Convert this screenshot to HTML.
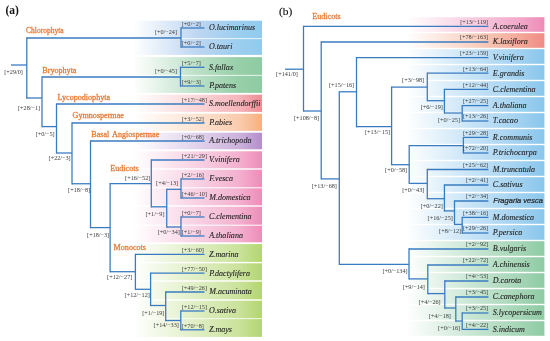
<!DOCTYPE html>
<html><head><meta charset="utf-8"><title>Phylogenetic tree</title>
<style>
html,body{margin:0;padding:0;background:#fff;}
svg{display:block;}
text{font-family:"Liberation Serif","Times New Roman",serif;}
.sp{font-size:8.05px;font-style:italic;fill:#222;stroke:#222;stroke-width:0.1px;}
.nl{font-size:6.2px;fill:#3a3a3a;}
.gp{font-size:8.1px;fill:#E67C38;stroke:#E67C38;stroke-width:0.3px;word-spacing:1.2px;}
.pa{font-size:11.5px;font-weight:bold;fill:#111;}
.pb{font-size:11.4px;fill:#111;stroke:#111;stroke-width:0.15px;}
.ss{font-family:"Liberation Sans",Arial,sans-serif;font-size:7.4px;font-style:italic;fill:#222;stroke:#222;stroke-width:0.2px;}
</style></head><body>
<svg width="550" height="341" viewBox="0 0 550 341">
<defs>
<filter id="soft" x="0" y="0" width="550" height="341" filterUnits="userSpaceOnUse"><feGaussianBlur stdDeviation="0.35"/></filter>
<linearGradient id="a_blue" gradientUnits="userSpaceOnUse" x1="133" y1="0" x2="262" y2="0"><stop offset="0" stop-color="#ffffff"/><stop offset="0.5" stop-color="#BED6F2"/><stop offset="0.82" stop-color="#9bceef"/><stop offset="1" stop-color="#92CAEE"/></linearGradient>
<linearGradient id="a_green" gradientUnits="userSpaceOnUse" x1="133" y1="0" x2="262" y2="0"><stop offset="0" stop-color="#ffffff"/><stop offset="0.5" stop-color="#bbe0c7"/><stop offset="0.82" stop-color="#97cfa9"/><stop offset="1" stop-color="#8ECBA2"/></linearGradient>
<linearGradient id="a_red" gradientUnits="userSpaceOnUse" x1="133" y1="0" x2="262" y2="0"><stop offset="0" stop-color="#ffffff"/><stop offset="0.5" stop-color="#fad6d8"/><stop offset="0.82" stop-color="#f5b5bb"/><stop offset="1" stop-color="#F08C94"/></linearGradient>
<linearGradient id="a_orange" gradientUnits="userSpaceOnUse" x1="133" y1="0" x2="262" y2="0"><stop offset="0" stop-color="#ffffff"/><stop offset="0.5" stop-color="#fce3d1"/><stop offset="0.82" stop-color="#f9ccae"/><stop offset="1" stop-color="#F6B080"/></linearGradient>
<linearGradient id="a_purple" gradientUnits="userSpaceOnUse" x1="133" y1="0" x2="262" y2="0"><stop offset="0" stop-color="#ffffff"/><stop offset="0.5" stop-color="#e1d2eb"/><stop offset="0.82" stop-color="#ccb2dc"/><stop offset="1" stop-color="#B48ECC"/></linearGradient>
<linearGradient id="a_pink" gradientUnits="userSpaceOnUse" x1="133" y1="0" x2="262" y2="0"><stop offset="0" stop-color="#ffffff"/><stop offset="0.5" stop-color="#f8d1e3"/><stop offset="0.82" stop-color="#f3b1cf"/><stop offset="1" stop-color="#EE8CB8"/></linearGradient>
<linearGradient id="a_lime" gradientUnits="userSpaceOnUse" x1="133" y1="0" x2="262" y2="0"><stop offset="0" stop-color="#ffffff"/><stop offset="0.5" stop-color="#dfeec3"/><stop offset="0.82" stop-color="#cae29b"/><stop offset="1" stop-color="#B3D670"/></linearGradient>
<linearGradient id="b_pink2" gradientUnits="userSpaceOnUse" x1="406" y1="0" x2="544.4" y2="0"><stop offset="0" stop-color="#ffffff"/><stop offset="0.5" stop-color="#f7cbdf"/><stop offset="0.82" stop-color="#f2a9ca"/><stop offset="1" stop-color="#EE8CB8"/></linearGradient>
<linearGradient id="b_red2" gradientUnits="userSpaceOnUse" x1="406" y1="0" x2="544.4" y2="0"><stop offset="0" stop-color="#ffffff"/><stop offset="0.5" stop-color="#F9D0C0"/><stop offset="0.82" stop-color="#F4A898"/><stop offset="1" stop-color="#F08C86"/></linearGradient>
<linearGradient id="b_blue2" gradientUnits="userSpaceOnUse" x1="406" y1="0" x2="544.4" y2="0"><stop offset="0" stop-color="#ffffff"/><stop offset="0.5" stop-color="#c4e2f6"/><stop offset="0.82" stop-color="#a1d1f0"/><stop offset="1" stop-color="#8AC6EC"/></linearGradient>
<linearGradient id="b_green2" gradientUnits="userSpaceOnUse" x1="406" y1="0" x2="544.4" y2="0"><stop offset="0" stop-color="#ffffff"/><stop offset="0.5" stop-color="#c6e5d2"/><stop offset="0.82" stop-color="#a5d5b6"/><stop offset="1" stop-color="#8ECBA4"/></linearGradient>
</defs>
<rect width="550" height="341" fill="#fff"/>
<g filter="url(#soft)">
<rect x="133.00" y="20.70" width="129.00" height="17.60" fill="url(#a_blue)"/>
<rect x="133.00" y="39.10" width="129.00" height="15.80" fill="url(#a_blue)"/>
<rect x="133.00" y="57.10" width="129.00" height="17.80" fill="url(#a_green)"/>
<rect x="133.00" y="75.70" width="129.00" height="17.20" fill="url(#a_green)"/>
<rect x="133.00" y="94.70" width="129.00" height="17.20" fill="url(#a_red)"/>
<rect x="133.00" y="113.70" width="129.00" height="17.20" fill="url(#a_orange)"/>
<rect x="133.00" y="132.70" width="129.00" height="16.60" fill="url(#a_purple)"/>
<rect x="133.00" y="151.30" width="129.00" height="17.00" fill="url(#a_pink)"/>
<rect x="133.00" y="169.70" width="129.00" height="17.60" fill="url(#a_pink)"/>
<rect x="133.00" y="188.30" width="129.00" height="17.00" fill="url(#a_pink)"/>
<rect x="133.00" y="206.70" width="129.00" height="18.00" fill="url(#a_pink)"/>
<rect x="133.00" y="225.70" width="129.00" height="16.60" fill="url(#a_pink)"/>
<rect x="133.00" y="244.10" width="129.00" height="17.80" fill="url(#a_lime)"/>
<rect x="133.00" y="263.30" width="129.00" height="17.00" fill="url(#a_lime)"/>
<rect x="133.00" y="281.70" width="129.00" height="17.60" fill="url(#a_lime)"/>
<rect x="133.00" y="300.70" width="129.00" height="17.60" fill="url(#a_lime)"/>
<rect x="133.00" y="319.10" width="129.00" height="17.80" fill="url(#a_lime)"/>
<rect x="406.00" y="17.20" width="138.40" height="14.60" fill="url(#b_pink2)"/>
<rect x="406.00" y="33.20" width="138.40" height="14.60" fill="url(#b_red2)"/>
<rect x="406.00" y="49.20" width="138.40" height="14.60" fill="url(#b_blue2)"/>
<rect x="406.00" y="65.20" width="138.40" height="14.60" fill="url(#b_blue2)"/>
<rect x="406.00" y="81.20" width="138.40" height="14.60" fill="url(#b_blue2)"/>
<rect x="406.00" y="97.20" width="138.40" height="14.60" fill="url(#b_blue2)"/>
<rect x="406.00" y="113.20" width="138.40" height="14.60" fill="url(#b_blue2)"/>
<rect x="406.00" y="129.20" width="138.40" height="14.60" fill="url(#b_blue2)"/>
<rect x="406.00" y="145.20" width="138.40" height="14.60" fill="url(#b_blue2)"/>
<rect x="406.00" y="161.20" width="138.40" height="14.60" fill="url(#b_blue2)"/>
<rect x="406.00" y="177.20" width="138.40" height="14.60" fill="url(#b_blue2)"/>
<rect x="406.00" y="193.20" width="138.40" height="14.60" fill="url(#b_blue2)"/>
<rect x="406.00" y="209.20" width="138.40" height="14.60" fill="url(#b_blue2)"/>
<rect x="406.00" y="225.20" width="138.40" height="14.60" fill="url(#b_blue2)"/>
<rect x="406.00" y="241.20" width="138.40" height="14.60" fill="url(#b_green2)"/>
<rect x="406.00" y="257.20" width="138.40" height="14.60" fill="url(#b_green2)"/>
<rect x="406.00" y="273.20" width="138.40" height="14.60" fill="url(#b_green2)"/>
<rect x="406.00" y="289.20" width="138.40" height="14.60" fill="url(#b_green2)"/>
<rect x="406.00" y="305.20" width="138.40" height="14.60" fill="url(#b_green2)"/>
<rect x="406.00" y="321.20" width="138.40" height="14.60" fill="url(#b_green2)"/>
</g>
<g stroke="#397BC1" stroke-width="1.28" fill="none" stroke-linecap="butt">
<path d="M181.00 28.00L204.50 28.00"/>
<path d="M181.00 47.00L204.50 47.00"/>
<path d="M180.50 67.30L204.50 67.30"/>
<path d="M180.50 86.00L204.50 86.00"/>
<path d="M56.50 104.00L204.50 104.00"/>
<path d="M72.00 123.00L204.50 123.00"/>
<path d="M90.50 141.00L204.50 141.00"/>
<path d="M151.30 160.00L204.50 160.00"/>
<path d="M181.00 179.00L204.50 179.00"/>
<path d="M181.00 198.00L204.50 198.00"/>
<path d="M181.00 217.00L204.50 217.00"/>
<path d="M181.00 236.00L204.50 236.00"/>
<path d="M135.40 254.40L204.50 254.40"/>
<path d="M150.60 273.20L204.50 273.20"/>
<path d="M165.70 292.00L204.50 292.00"/>
<path d="M180.80 311.00L204.50 311.00"/>
<path d="M180.80 329.80L204.50 329.80"/>
<path d="M26.80 37.36L26.80 98.64"/>
<path d="M11.00 65.00L26.80 65.00"/>
<path d="M26.80 38.00L181.00 38.00"/>
<path d="M181.00 27.36L181.00 47.64"/>
<path d="M181.00 38.00L181.00 38.00"/>
<path d="M42.00 76.36L42.00 127.24"/>
<path d="M26.80 98.00L42.00 98.00"/>
<path d="M42.00 77.00L180.50 77.00"/>
<path d="M180.50 66.66L180.50 86.64"/>
<path d="M180.50 77.00L180.50 77.00"/>
<path d="M56.50 103.36L56.50 153.64"/>
<path d="M42.00 126.60L56.50 126.60"/>
<path d="M72.00 122.36L72.00 184.39"/>
<path d="M56.50 153.00L72.00 153.00"/>
<path d="M90.50 140.36L90.50 228.24"/>
<path d="M72.00 183.75L90.50 183.75"/>
<path d="M110.10 183.06L110.10 272.34"/>
<path d="M90.50 227.60L110.10 227.60"/>
<path d="M151.30 159.36L151.30 207.44"/>
<path d="M110.10 183.70L151.30 183.70"/>
<path d="M166.75 188.66L166.75 227.64"/>
<path d="M151.30 206.80L166.75 206.80"/>
<path d="M181.00 178.36L181.00 198.64"/>
<path d="M166.75 189.30L181.00 189.30"/>
<path d="M181.00 216.36L181.00 236.64"/>
<path d="M166.75 227.00L181.00 227.00"/>
<path d="M135.40 253.76L135.40 289.94"/>
<path d="M110.10 271.70L135.40 271.70"/>
<path d="M150.60 272.56L150.60 306.14"/>
<path d="M135.40 289.30L150.60 289.30"/>
<path d="M165.70 291.36L165.70 321.14"/>
<path d="M150.60 305.50L165.70 305.50"/>
<path d="M180.80 310.36L180.80 330.44"/>
<path d="M165.70 320.50L180.80 320.50"/>
<path d="M303.50 26.40L488.40 26.40"/>
<path d="M321.20 42.00L488.40 42.00"/>
<path d="M356.50 57.60L488.40 57.60"/>
<path d="M427.30 73.20L488.40 73.20"/>
<path d="M444.40 89.40L488.40 89.40"/>
<path d="M462.20 105.60L488.40 105.60"/>
<path d="M462.20 121.00L488.40 121.00"/>
<path d="M463.40 137.40L488.40 137.40"/>
<path d="M463.40 153.00L488.40 153.00"/>
<path d="M427.30 169.50L488.40 169.50"/>
<path d="M444.40 185.00L488.40 185.00"/>
<path d="M454.50 201.00L488.40 201.00"/>
<path d="M462.20 217.40L488.40 217.40"/>
<path d="M462.20 233.00L488.40 233.00"/>
<path d="M409.00 249.00L488.40 249.00"/>
<path d="M427.80 265.00L488.40 265.00"/>
<path d="M444.80 281.00L488.40 281.00"/>
<path d="M455.80 297.00L488.40 297.00"/>
<path d="M462.20 313.00L488.40 313.00"/>
<path d="M462.20 329.40L488.40 329.40"/>
<path d="M303.50 25.76L303.50 111.64"/>
<path d="M285.00 69.20L303.50 69.20"/>
<path d="M321.20 41.36L321.20 179.54"/>
<path d="M303.50 111.00L321.20 111.00"/>
<path d="M339.30 91.16L339.30 265.04"/>
<path d="M321.20 178.90L339.30 178.90"/>
<path d="M356.50 56.96L356.50 127.34"/>
<path d="M339.30 91.80L356.50 91.80"/>
<path d="M391.60 86.46L391.60 165.34"/>
<path d="M356.50 126.70L391.60 126.70"/>
<path d="M427.30 72.56L427.30 101.34"/>
<path d="M391.60 87.10L427.30 87.10"/>
<path d="M444.40 88.76L444.40 113.64"/>
<path d="M427.30 100.70L444.40 100.70"/>
<path d="M462.20 104.96L462.20 121.64"/>
<path d="M444.40 113.00L462.20 113.00"/>
<path d="M409.20 144.96L409.20 184.04"/>
<path d="M391.60 164.70L409.20 164.70"/>
<path d="M463.40 136.76L463.40 153.64"/>
<path d="M409.20 145.60L463.40 145.60"/>
<path d="M427.30 168.86L427.30 199.34"/>
<path d="M409.20 183.40L427.30 183.40"/>
<path d="M444.40 184.36L444.40 211.54"/>
<path d="M427.30 198.70L444.40 198.70"/>
<path d="M454.50 200.36L454.50 225.04"/>
<path d="M444.40 210.90L454.50 210.90"/>
<path d="M462.20 216.76L462.20 233.64"/>
<path d="M454.50 224.40L462.20 224.40"/>
<path d="M409.00 248.36L409.00 279.54"/>
<path d="M339.30 264.40L409.00 264.40"/>
<path d="M427.80 264.36L427.80 294.24"/>
<path d="M409.00 278.90L427.80 278.90"/>
<path d="M444.80 280.36L444.80 308.64"/>
<path d="M427.80 293.60L444.80 293.60"/>
<path d="M455.80 296.36L455.80 321.64"/>
<path d="M444.80 308.00L455.80 308.00"/>
<path d="M462.20 312.36L462.20 330.04"/>
<path d="M455.80 321.00L462.20 321.00"/>
</g>
<g>
<text x="208.90" y="30.40" class="sp">O.lucimarinus</text>
<text x="181.80" y="25.75" class="nl">[+0/−2]</text>
<text x="208.90" y="49.40" class="sp">O.tauri</text>
<text x="181.80" y="44.75" class="nl">[+0/−2]</text>
<text x="208.90" y="69.70" class="sp">S.fallax</text>
<text x="181.80" y="65.05" class="nl">[+5/−7]</text>
<text x="209.20" y="88.40" class="sp">P.patens</text>
<text x="181.80" y="83.75" class="nl">[+9/−3]</text>
<text x="208.90" y="106.40" class="sp">S.moellendorffii</text>
<text x="181.80" y="101.75" class="nl">[+17/−48]</text>
<text x="209.20" y="125.40" class="sp">P.abies</text>
<text x="181.80" y="120.75" class="nl">[+3/−52]</text>
<text x="209.20" y="143.40" class="sp">A.trichopoda</text>
<text x="181.80" y="138.75" class="nl">[+0/−68]</text>
<text x="208.90" y="162.40" class="sp">V.vinifera</text>
<text x="181.80" y="157.75" class="nl">[+21/−29]</text>
<text x="209.20" y="181.40" class="sp">F.vesca</text>
<text x="181.80" y="176.75" class="nl">[+2/−16]</text>
<text x="209.20" y="200.40" class="sp">M.domestica</text>
<text x="181.80" y="195.75" class="nl">[+46/−10]</text>
<text x="208.90" y="219.40" class="sp">C.clementina</text>
<text x="181.80" y="214.75" class="nl">[+0/−7]</text>
<text x="209.20" y="238.40" class="sp">A.thaliana</text>
<text x="181.80" y="233.75" class="nl">[+1/−9]</text>
<text x="208.90" y="256.80" class="sp">Z.marina</text>
<text x="181.80" y="252.15" class="nl">[+3/−60]</text>
<text x="209.20" y="275.60" class="sp">P.dactylifera</text>
<text x="181.80" y="270.95" class="nl">[+77/−50]</text>
<text x="209.20" y="294.40" class="sp">M.acuminata</text>
<text x="181.80" y="289.75" class="nl">[+49/−26]</text>
<text x="208.90" y="313.40" class="sp">O.sativa</text>
<text x="181.80" y="308.75" class="nl">[+12/−15]</text>
<text x="208.90" y="332.20" class="sp">Z.mays</text>
<text x="181.80" y="327.55" class="nl">[+70/−8]</text>
<text x="22.90" y="73.70" class="nl" text-anchor="end">[+29/0]</text>
<text x="40.10" y="110.00" class="nl" text-anchor="end">[+28/−1]</text>
<text x="54.70" y="135.80" class="nl" text-anchor="end">[+0/−5]</text>
<text x="70.70" y="160.30" class="nl" text-anchor="end">[+22/−3]</text>
<text x="90.20" y="192.00" class="nl" text-anchor="end">[+18/−8]</text>
<text x="109.20" y="237.00" class="nl" text-anchor="end">[+18/−3]</text>
<text x="150.30" y="180.00" class="nl" text-anchor="end">[+16/−52]</text>
<text x="178.20" y="185.00" class="nl" text-anchor="end">[+4/−13]</text>
<text x="164.50" y="216.00" class="nl" text-anchor="end">[+1/−9]</text>
<text x="179.80" y="233.70" class="nl" text-anchor="end">[+0/−34]</text>
<text x="132.30" y="279.20" class="nl" text-anchor="end">[+12/−27]</text>
<text x="149.80" y="297.00" class="nl" text-anchor="end">[+12/−12]</text>
<text x="164.40" y="314.50" class="nl" text-anchor="end">[+1/−19]</text>
<text x="178.80" y="326.60" class="nl" text-anchor="end">[+14/−33]</text>
<text x="177.00" y="34.20" class="nl" text-anchor="end">[+0/−24]</text>
<text x="177.00" y="73.00" class="nl" text-anchor="end">[+0/−45]</text>
<text x="26.00" y="33.30" class="gp" textLength="37.7" lengthAdjust="spacingAndGlyphs">Chlorophyta</text>
<text x="42.30" y="73.00" class="gp">Bryophyta</text>
<text x="57.50" y="100.00" class="gp">Lycopodiophyta</text>
<text x="72.60" y="118.30" class="gp">Gymnospermae</text>
<text x="91.30" y="137.00" class="gp">Basal Angiospermae</text>
<text x="110.30" y="170.80" class="gp">Eudicots</text>
<text x="113.60" y="250.30" class="gp">Monocots</text>
<text x="5.50" y="13.50" class="pa">(a)</text>
<text x="492.80" y="28.80" class="sp">A.coerulea</text>
<text x="488.20" y="23.80" class="nl" text-anchor="end">[+13/−119]</text>
<text x="492.80" y="44.40" class="sp">K.laxiflora</text>
<text x="488.20" y="39.40" class="nl" text-anchor="end">[+78/−163]</text>
<text x="492.80" y="60.00" class="sp">V.vinifera</text>
<text x="488.20" y="55.00" class="nl" text-anchor="end">[+23/−159]</text>
<text x="492.80" y="75.60" class="sp">E.grandis</text>
<text x="488.20" y="70.60" class="nl" text-anchor="end">[+13/−64]</text>
<text x="492.80" y="91.80" class="sp">C.clementina</text>
<text x="488.20" y="86.80" class="nl" text-anchor="end">[+12/−44]</text>
<text x="492.80" y="108.00" class="sp">A.thaliana</text>
<text x="488.20" y="103.00" class="nl" text-anchor="end">[+27/−25]</text>
<text x="492.80" y="123.40" class="sp">T.cacao</text>
<text x="488.20" y="118.40" class="nl" text-anchor="end">[+13/−26]</text>
<text x="492.80" y="139.80" class="sp">R.communis</text>
<text x="488.20" y="134.80" class="nl" text-anchor="end">[+29/−28]</text>
<text x="492.80" y="155.40" class="sp">P.trichocarpa</text>
<text x="488.20" y="150.40" class="nl" text-anchor="end">[+72/−20]</text>
<text x="492.80" y="171.90" class="sp">M.truncatula</text>
<text x="488.20" y="166.90" class="nl" text-anchor="end">[+25/−62]</text>
<text x="492.80" y="187.40" class="sp">C.sativus</text>
<text x="488.20" y="182.40" class="nl" text-anchor="end">[+2/−41]</text>
<text x="493.30" y="203.20" class="ss" textLength="49.6" lengthAdjust="spacingAndGlyphs">Fragaria vesca</text>
<text x="488.20" y="198.40" class="nl" text-anchor="end">[+2/−34]</text>
<text x="492.80" y="219.80" class="sp">M.domestica</text>
<text x="488.20" y="214.80" class="nl" text-anchor="end">[+38/−16]</text>
<text x="492.80" y="235.40" class="sp">P.persica</text>
<text x="488.20" y="230.40" class="nl" text-anchor="end">[+29/−26]</text>
<text x="492.80" y="251.40" class="sp">B.vulgaris</text>
<text x="488.20" y="246.40" class="nl" text-anchor="end">[+2/−92]</text>
<text x="492.80" y="267.40" class="sp">A.chinensis</text>
<text x="488.20" y="262.40" class="nl" text-anchor="end">[+22/−72]</text>
<text x="492.80" y="283.40" class="sp">D.carota</text>
<text x="488.20" y="278.40" class="nl" text-anchor="end">[+4/−53]</text>
<text x="492.80" y="299.40" class="sp">C.canephora</text>
<text x="488.20" y="294.40" class="nl" text-anchor="end">[+3/−45]</text>
<text x="492.80" y="315.40" class="sp">S.lycopersicum</text>
<text x="488.20" y="310.40" class="nl" text-anchor="end">[+3/−25]</text>
<text x="492.80" y="331.80" class="sp">S.indicum</text>
<text x="488.20" y="326.80" class="nl" text-anchor="end">[+4/−22]</text>
<text x="297.80" y="76.40" class="nl" text-anchor="end">[+141/0]</text>
<text x="319.20" y="119.50" class="nl" text-anchor="end">[+108/−8]</text>
<text x="336.90" y="188.00" class="nl" text-anchor="end">[+13/−68]</text>
<text x="354.20" y="87.00" class="nl" text-anchor="end">[+15/−16]</text>
<text x="390.10" y="134.00" class="nl" text-anchor="end">[+13/−15]</text>
<text x="424.20" y="82.00" class="nl" text-anchor="end">[+3/−98]</text>
<text x="442.80" y="108.60" class="nl" text-anchor="end">[+6/−19]</text>
<text x="460.00" y="122.20" class="nl" text-anchor="end">[+0/−25]</text>
<text x="407.20" y="172.40" class="nl" text-anchor="end">[+0/−58]</text>
<text x="424.30" y="191.60" class="nl" text-anchor="end">[+0/−43]</text>
<text x="442.80" y="207.50" class="nl" text-anchor="end">[+0/−22]</text>
<text x="452.80" y="219.80" class="nl" text-anchor="end">[+16/−25]</text>
<text x="461.20" y="232.60" class="nl" text-anchor="end">[+8/−12]</text>
<text x="407.60" y="272.80" class="nl" text-anchor="end">[+0/−134]</text>
<text x="424.90" y="289.00" class="nl" text-anchor="end">[+9/−14]</text>
<text x="440.70" y="304.00" class="nl" text-anchor="end">[+4/−26]</text>
<text x="450.90" y="318.00" class="nl" text-anchor="end">[+4/−18]</text>
<text x="460.20" y="329.60" class="nl" text-anchor="end">[+0/−16]</text>
<text x="312.30" y="19.20" class="gp">Eudicots</text>
<text x="279.00" y="14.60" class="pb">(b)</text>
</g>
</svg>
</body></html>
